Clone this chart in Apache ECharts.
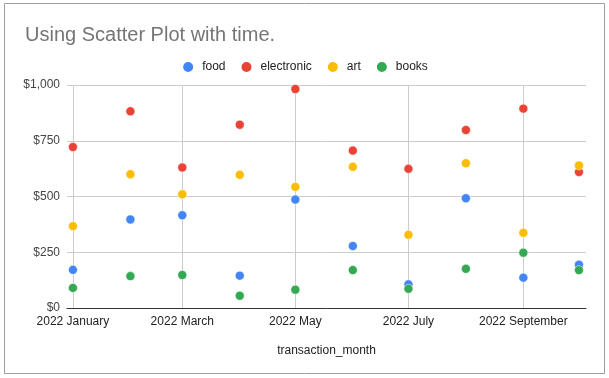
<!DOCTYPE html>
<html><head><meta charset="utf-8">
<script src="https://cdn.jsdelivr.net/npm/echarts@6/dist/echarts.min.js"></script>
<style>html,body{margin:0;padding:0;background:#fff}#c{width:609px;height:378px}</style>
</head><body><div id="c"></div>
<script>
// Data
const months = ['2022-01-01','2022-02-01','2022-03-01','2022-04-01','2022-05-01','2022-06-01','2022-07-01','2022-08-01','2022-09-01','2022-10-01'];
const food       = [171, 397, 416, 145, 486, 278, 106, 492, 136, 194];
const electronic = [722, 882, 630, 822, 982, 706, 624, 798, 894, 610];
const art        = [367, 600, 510, 597, 543, 633, 328, 649, 337, 639];
const books      = [ 90, 143, 148,  55,  82, 170,  86, 176, 248, 170];
const tickDates  = ['2022-01-01','2022-03-01','2022-05-01','2022-07-01','2022-09-01'];
const tickLabels = ['2022 January','2022 March','2022 May','2022 July','2022 September'];
const yTicks = [0, 250, 500, 750, 1000];
const yTickLabels = ['$0', '$250', '$500', '$750', '$1,000'];

const ts = s => { const [y,m,d] = s.split('-').map(Number); return Date.UTC(y, m-1, d); };
const DAY = 86400000;
const tickTs = tickDates.map(ts);
const mk = vals => months.map((m,i) => [ts(m), vals[i]]);
const colors = ['#4285F4','#EA4335','#FBBC04','#34A853'];
const names = ['food','electronic','art','books'];
const sets = [food, electronic, art, books];
const FONT = 'Arial, Liberation Sans, sans-serif';

const chart = echarts.init(document.getElementById('c'));
chart.setOption({
  animation: false,
  color: colors,
  title: {
    text: 'Using Scatter Plot with time.',
    left: 20, top: 20,
    textStyle: {fontFamily: FONT, fontSize: 20, fontWeight: 'normal', color: '#757575'}
  },
  legend: {
    left: 'center', top: 55,
    icon: 'circle', itemWidth: 18, itemHeight: 12, itemGap: 14,
    textStyle: {fontFamily: FONT, fontSize: 12, color: '#222'},
    data: names
  },
  graphic: [{type: 'rect', shape: {x: 4.5, y: 3.5, width: 600, height: 370}, style: {fill: 'none', stroke: '#9e9e9e', lineWidth: 1}, silent: true}],
  grid: {left: 67, right: 23, top: 85, bottom: 70},
  xAxis: {
    type: 'value',
    min: ts('2022-01-01') - 3.2 * DAY,
    max: ts('2022-10-01') + 3.8 * DAY,
    axisLine: {lineStyle: {color: '#333', width: 1}},
    axisTick: {show: false, customValues: tickTs},
    axisLabel: {
      customValues: tickTs,
      formatter: v => { const i = tickTs.indexOf(v); return i >= 0 ? tickLabels[i] : ''; },
      fontFamily: FONT, fontSize: 12, color: '#222', margin: 8
    },
    splitLine: {show: true, lineStyle: {color: '#ccc', width: 1}},
    name: 'transaction_month', nameLocation: 'middle', nameGap: 37,
    nameTextStyle: {fontFamily: FONT, fontSize: 12, color: '#222'}
  },
  yAxis: {
    type: 'value', min: 0, max: 1000, interval: 250,
    axisLine: {show: false}, axisTick: {show: false},
    axisLabel: {
      formatter: v => { const i = yTicks.indexOf(v); return i >= 0 ? yTickLabels[i] : ''; },
      fontFamily: FONT, fontSize: 12, color: '#444', margin: 7
    },
    splitLine: {lineStyle: {color: '#ccc', width: 1}}
  },
  series: names.map((n, i) => ({
    name: n, type: 'scatter', symbol: 'circle', symbolSize: 9,
    itemStyle: {color: colors[i], borderColor: '#fff', borderWidth: 0.5, opacity: 1},
    data: mk(sets[i])
  }))
});
</script></body></html>
